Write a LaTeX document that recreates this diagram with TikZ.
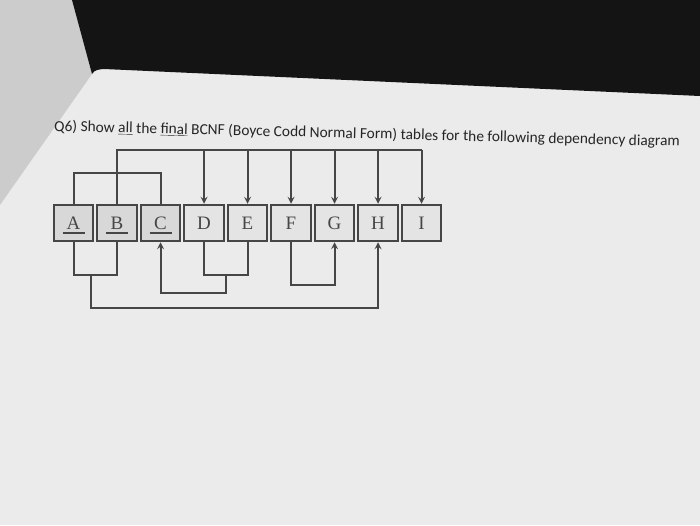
\documentclass[tikz,border=0pt]{standalone}
\usepackage{fontspec}
\usepackage{tikz}
\usetikzlibrary{positioning,calc}
\newfontfamily\notefont{Carlito}
\newfontfamily\cellfont{Liberation Serif}
\definecolor{paper}{HTML}{EBEBEB}
\definecolor{ink}{HTML}{464646}
\definecolor{keycell}{HTML}{D8D8D8}
\definecolor{cellbg}{HTML}{E4E4E4}

\begin{document}
\begin{tikzpicture}[x=1pt, y=-1pt, >=stealth,
    cell/.style={draw=ink, fill=cellbg, line width=2pt, minimum width=39.5pt,
      minimum height=36.5pt, inner sep=0pt, text=ink, font=\cellfont\fontsize{19}{19}\selectfont},
    key/.style={cell, fill=keycell, path picture={\draw[ink, line width=2pt]
      ([xshift=-11pt,yshift=-10pt]path picture bounding box.center) -- ++(22pt,0pt);}},
    dep/.style={draw=ink, line width=2pt}]
  \useasboundingbox (0,0) rectangle (700,525);
  \fill[paper] (0,0) rectangle (700,525);
  % the sheet below and the dark desk
  \fill[black!20] (0,0) -- (72,0) -- (92,74) -- (0,205) -- cycle;
  \fill[black!92] (72,0) -- (700,0) -- (700,96) -- (104,69) to[out=185,in=60] (92,74) -- cycle;
  \node[anchor=base west, rotate=-1.4, inner sep=0pt, text=black!85,
    font=\notefont\fontsize{15.4}{16}\selectfont] (q6) at (54,131)
    {Q6) Show \underline{all} the \underline{final} BCNF (Boyce Codd Normal Form) tables for the following dependency diagram};

  \node[key] (A) at (73.5,223) {A};
  \node[key, right=2pt of A] (B) {B};
  \node[key, right=2pt of B] (C) {C};
  \node[cell, right=2pt of C] (D) {D};
  \node[cell, right=2pt of D] (E) {E};
  \node[cell, right=2pt of E] (F) {F};
  \node[cell, right=2pt of F] (G) {G};
  \node[cell, right=2pt of G] (H) {H};
  \node[cell, right=2pt of H] (I) {I};

  % above the row
  \draw[dep] (A.north) -- ++(0,-31) -| (C.north);
  \draw[dep] (B.north) -- ++(0,-54) coordinate (top) -- (top -| I.north);
  \foreach \n in {D,E,F,G,H,I}
    \draw[dep,->] (top -| \n.north) -- (\n.north);

  % below the row
  \draw[dep] (A.south) -- ++(0,33) coordinate (ab) -| (B.south);
  \draw[dep,->] ($(ab)!0.4!(ab -| B.south)$) -- ++(0,33) -| (H.south);
  \draw[dep] (D.south) -- ++(0,33) coordinate (de) -| (E.south);
  \draw[dep,->] ($(de)!0.5!(de -| E.south)$) -- ++(0,18) -| (C.south);
  \draw[dep,->] (F.south) -- ++(0,43) -| (G.south);
\end{tikzpicture}
\end{document}
